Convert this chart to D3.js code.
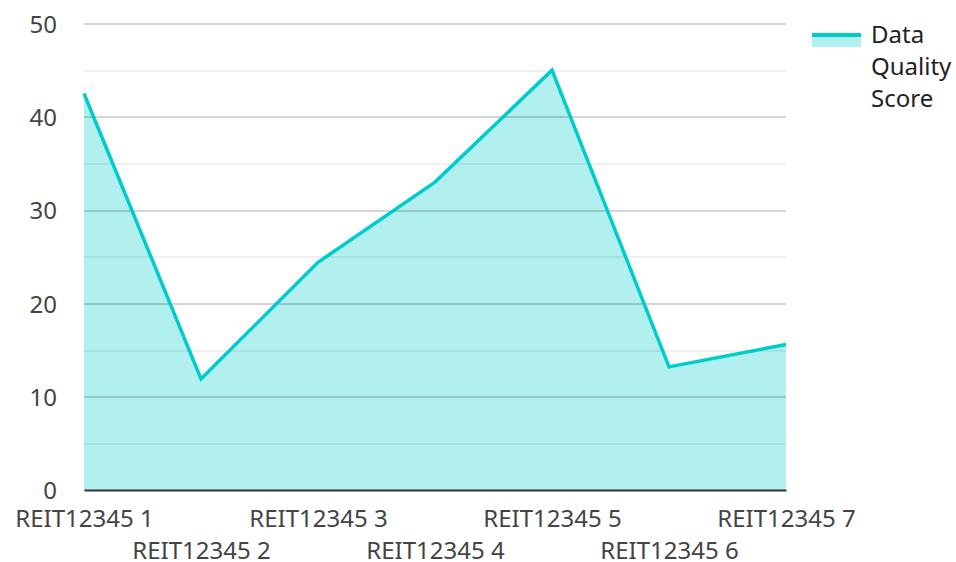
<!DOCTYPE html>
<html lang="en">
<head>
    <meta charset="UTF-8">
    <script src="https://d3js.org/d3.v7.min.js"></script>
    <title>Data Quality Score</title>
    <style>
        body { margin: 0; background: #fff; }
        text { font-family: "Noto Sans", sans-serif; }
    </style>
</head>
<body>
    <div id="canvas"></div>
</body>
    <script>
        const categories = ["REIT12345 1","REIT12345 2","REIT12345 3","REIT12345 4","REIT12345 5","REIT12345 6","REIT12345 7"]
        const scores = [42.5, 11.9, 24.4, 33.0, 45.0, 13.2, 15.6]
        const majorTicks = [0, 10, 20, 30, 40, 50]
        const minorTicks = [5, 15, 25, 35, 45]
        const seriesName = ["Data", "Quality", "Score"]

        const svg = d3.select("#canvas").append("svg").attr("width",956).attr("height",562)
        const margin = {top:23.5,left:84,right:170,bottom:72}
        const w = 956-margin.left-margin.right
        const h = 562-margin.top-margin.bottom
        const g = svg.append("g").attr("transform",`translate(${margin.left},${margin.top})`)

        const x = d3.scalePoint().domain(categories).range([0,w])
        const y = d3.scaleLinear().domain([0,50]).range([h,0])

        // area fill first
        g.append("path").datum(scores)
            .attr("fill","#00cccc").attr("fill-opacity",0.3)
            .attr("d", d3.area().x((d,i)=>x(categories[i])).y0(y(0)).y1(d=>y(d)))

        // gridlines on top of the fill
        g.selectAll(".minor").data(minorTicks).enter().append("line")
            .attr("x1",0).attr("x2",w)
            .attr("y1",d=>Math.round(y(d))+0.5).attr("y2",d=>Math.round(y(d))+0.5)
            .attr("stroke","#000").attr("stroke-opacity",0.08).attr("stroke-width",1.5)
        g.selectAll(".major").data(majorTicks.filter(d=>d>0)).enter().append("line")
            .attr("x1",0).attr("x2",w)
            .attr("y1",d=>Math.round(y(d))+0.5).attr("y2",d=>Math.round(y(d))+0.5)
            .attr("stroke","#000").attr("stroke-opacity",0.22).attr("stroke-width",1.5)

        g.append("path").datum(scores)
            .attr("fill","none").attr("stroke","#00cccc").attr("stroke-width",3.5)
            .attr("d", d3.line().x((d,i)=>x(categories[i])).y(d=>y(d)))

        // y axis
        const yAxis = d3.axisLeft(y).tickValues(majorTicks).tickSize(0).tickPadding(27)
        const gy = g.append("g").call(yAxis)
        gy.select(".domain").remove()
        gy.selectAll("text").attr("fill","#444").style("font-size","24px").attr("dy","0.36em")

        // x axis, labels staggered on two rows
        const xAxis = d3.axisBottom(x).tickSize(0).tickPadding(0)
        const gx = g.append("g").attr("transform",`translate(0,${h})`).call(xAxis)
        gx.select(".domain").attr("stroke","#333").attr("stroke-width",2)
        gx.selectAll("text").attr("fill","#444").style("font-size","24px")
            .attr("dy",null)
            .attr("y",(d,i)=> i%2===0 ? 37 : 69)

        // legend
        const lg = svg.append("g").attr("transform","translate(812,33)")
        lg.append("rect").attr("width",49).attr("height",14).attr("fill","#00cccc").attr("fill-opacity",0.3)
        lg.append("line").attr("x1",0).attr("x2",49).attr("y1",2).attr("y2",2)
            .attr("stroke","#00cccc").attr("stroke-width",4)
        lg.append("text").attr("x",59).attr("y",10).attr("fill","#222").style("font-size","24px")
            .selectAll("tspan").data(seriesName).enter().append("tspan")
            .attr("x",59).attr("dy",(d,i)=> i===0 ? 0 : 32).text(d=>d)
    </script>
</html>
